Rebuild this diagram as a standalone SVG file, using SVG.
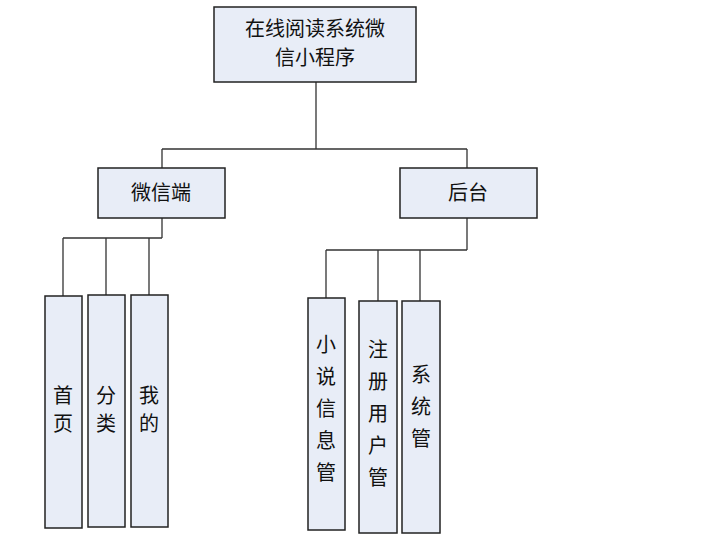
<svg xmlns="http://www.w3.org/2000/svg" width="710" height="540" viewBox="0 0 710 540">
<style>
.b{fill:#e8edf7;stroke:#222;stroke-width:1.5}
.t{font-family:"Liberation Serif","Noto Sans CJK SC",serif;font-size:20px;fill:#111;text-anchor:middle}
.c{fill:none;stroke:#333;stroke-width:1.3}
</style>
<rect width="710" height="540" fill="#fff"/>
<g id="connectors">
<path class="c" d="M316 82V149M162 149H467M162 149V168M467 149V168"/>
<path class="c" d="M162 218V238M63 238H162M63 238V296M106 238V295M149 238V295"/>
<path class="c" d="M467 218V250M326 250H467M326 250V298M378 250V301M420 250V301"/>
</g>
<g id="root"><rect class="b" x="214" y="7" width="202" height="75"/>
<text class="t" x="315" y="36">在线阅读系统微</text><text class="t" x="315" y="65">信小程序</text></g>
<g id="wx"><rect class="b" x="98" y="168" width="127" height="50"/><text class="t" x="161" y="200">微信端</text></g>
<g id="ht"><rect class="b" x="400" y="168" width="137" height="50"/><text class="t" x="468" y="200">后台</text></g>
<g id="sy"><rect class="b" x="45" y="296" width="37" height="232"/><text class="t" x="63" y="403">首</text><text class="t" x="63" y="431">页</text></g>
<g id="fl"><rect class="b" x="88" y="295" width="37" height="232"/><text class="t" x="106" y="403">分</text><text class="t" x="106" y="431">类</text></g>
<g id="wd"><rect class="b" x="131" y="295" width="37" height="232"/><text class="t" x="149" y="403">我</text><text class="t" x="149" y="431">的</text></g>
<g id="xs"><rect class="b" x="308" y="298" width="37" height="232"/>
<text class="t" x="326" y="352">小</text><text class="t" x="326" y="384">说</text><text class="t" x="326" y="416">信</text><text class="t" x="326" y="448">息</text><text class="t" x="326" y="480">管</text><text class="t" x="326" y="490" dy="0"></text></g>
<g id="xs2"><text class="t" x="326" y="483" dy="0" visibility="hidden">.</text></g>
<g id="zc"><rect class="b" x="359" y="301" width="38" height="232"/>
<text class="t" x="378" y="357">注</text><text class="t" x="378" y="389">册</text><text class="t" x="378" y="421">用</text><text class="t" x="378" y="453">户</text><text class="t" x="378" y="485">管</text></g>
<g id="xt"><rect class="b" x="402" y="301" width="38" height="232"/>
<text class="t" x="421" y="382">系</text><text class="t" x="421" y="414">统</text><text class="t" x="421" y="446">管</text></g>
</svg>
